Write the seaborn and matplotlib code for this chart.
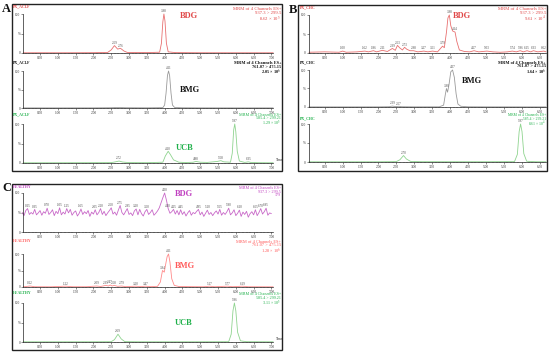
import numpy as np
import pandas as pd
import matplotlib
matplotlib.use("Agg")
import matplotlib.pyplot as plt
import seaborn as sns
from matplotlib.patches import Rectangle
from matplotlib.ticker import MultipleLocator

# ---------------- data (retention time in min, relative intensity in %) ----------------
# Panel A (PX_ACLF)
a1_t = [0.03, 0.5, 1.0, 1.5, 2.0, 2.40, 2.50, 2.59, 2.68, 2.76, 2.86, 2.95, 3.5, 3.86, 3.91, 3.95, 3.98, 4.01, 4.05, 4.10, 4.3, 5.0, 6.0, 7.05]
a1_y = [0.5, 0.6, 0.5, 0.6, 0.8, 1.5, 8, 19, 10, 12, 5, 1.5, 1, 2, 25, 80, 100, 82, 25, 3, 1, 0.6, 0.5, 0.5]
a1_lab = [2.59, 2.76, 3.98]

a2_t = [0.03, 1.0, 2.0, 2.5, 2.7, 2.9, 3.5, 3.95, 4.00, 4.04, 4.08, 4.11, 4.14, 4.18, 4.22, 4.28, 4.5, 5.0, 6.0, 7.05]
a2_y = [0.3, 0.3, 0.4, 0.8, 1.5, 0.8, 0.5, 1, 8, 40, 88, 100, 88, 40, 8, 1.5, 0.6, 0.4, 0.3, 0.3]
a2_lab = [4.11]

a3_t = [0.03, 1.0, 2.0, 2.5, 2.62, 2.72, 2.82, 3.0, 3.5, 3.95, 4.02, 4.10, 4.16, 4.25, 4.40, 4.6, 4.80, 4.88, 5.0, 5.2,
        5.48, 5.58, 5.66, 5.85, 5.90, 5.94, 5.97, 6.00, 6.04, 6.10, 6.25, 6.35, 6.42, 6.6, 7.05]
a3_y = [0.5, 0.6, 0.8, 1, 3, 5, 2.5, 1, 0.8, 2, 18, 30, 22, 8, 2, 1.2, 2, 4, 2, 1.5,
        4, 6, 3, 2, 25, 85, 100, 80, 30, 5, 1.5, 3, 1.5, 0.8, 0.5]
a3_lab = [2.72, 4.10, 4.88, 5.58, 5.97, 6.35]

# Panel B (PX_CHC)
b1_t = [0.06, 0.5, 0.9, 1.00, 1.1, 1.4, 1.62, 1.72, 1.86, 1.95, 2.11, 2.25, 2.39, 2.47, 2.53, 2.60, 2.67, 2.73, 2.79, 2.88,
        2.98, 3.1, 3.27, 3.38, 3.51, 3.65, 3.79, 3.84, 3.90, 3.94, 3.98, 4.02, 4.07, 4.14, 4.19, 4.26, 4.4, 4.55, 4.67, 4.8,
        5.03, 5.2, 5.4, 5.6, 5.74, 5.85, 5.96, 6.05, 6.15, 6.25, 6.33, 6.45, 6.62, 6.68]
b1_y = [2, 3, 2, 5, 2, 3, 5, 3, 6, 3, 7, 4, 12, 7, 20, 13, 8, 15, 10, 6,
        6, 3, 5, 3, 5, 3, 18, 14, 55, 92, 100, 72, 58, 55, 30, 8, 4, 3, 6, 3,
        5, 3, 2, 3, 5, 3, 6, 3, 6, 3, 6, 3, 5, 3]
b1_lab = [1.00, 1.62, 1.86, 2.11, 2.39, 2.53, 2.73, 2.98, 3.27, 3.51, 3.79, 3.98, 4.14, 4.67, 5.03, 5.74, 5.96, 6.15, 6.33, 6.62]

b2_t = [0.06, 1.0, 2.0, 2.30, 2.39, 2.48, 2.57, 2.65, 3.0, 3.7, 3.82, 3.87, 3.90, 3.93, 3.97, 4.02, 4.07, 4.12, 4.17, 4.22, 4.30, 4.5, 5.0, 6.68]
b2_y = [0.3, 0.3, 0.4, 0.8, 2.5, 1, 2, 0.8, 0.4, 0.5, 5, 35, 50, 40, 60, 95, 100, 80, 35, 8, 2, 0.6, 0.4, 0.3]
b2_lab = [2.39, 2.57, 3.90, 4.07]

b3_t = [0.06, 1.0, 2.0, 2.5, 2.60, 2.70, 2.78, 2.90, 3.2, 4.0, 5.0, 5.80, 5.88, 5.93, 5.97, 6.01, 6.06, 6.14, 6.4, 6.68]
b3_y = [0.5, 0.5, 0.6, 1, 6, 17, 8, 1.5, 0.8, 0.7, 0.7, 1, 20, 80, 100, 80, 22, 2, 0.7, 0.6]
b3_lab = [2.70, 5.97]

# Panel C (HEALTHY)
c1_t = [round(0.05 * i, 2) for i in range(141)]
c1_y = [50, 42, 55, 60, 45, 50, 46, 58, 44, 49,
        55, 43, 52, 48, 61, 45, 50, 57, 42, 53,
        47, 62, 44, 51, 46, 60, 49, 58, 43, 50,
        54, 41, 48, 59, 45, 52, 47, 55, 40, 51,
        46, 57, 44, 50, 60, 45, 53, 42, 49, 55,
        62, 46, 51, 43, 56, 68, 50, 44, 52, 60,
        45, 49, 42, 54, 59, 44, 58, 47, 41, 52,
        58, 45, 50, 57, 43, 48, 54, 62, 75, 88,
        100, 82, 60, 48, 52, 58, 46, 55, 44, 57,
        45, 52, 41, 49, 55, 43, 50, 47, 53, 58,
        44, 51, 40, 48, 56, 45, 50, 42, 49, 54,
        46, 58, 43, 50, 45, 52, 61, 44, 49, 57,
        42, 48, 56, 40, 51, 45, 53, 38, 47, 52,
        44, 57, 42, 50, 60, 46, 52, 61, 43, 49,
        47]
c1_lab = [0.15, 0.35, 0.70, 1.05, 1.25, 1.65, 2.05, 2.20, 2.50, 2.75, 2.95, 3.20, 3.50,
          4.00, 4.10, 4.25, 4.45, 4.95, 5.20, 5.55, 5.80, 6.10, 6.55, 6.70, 6.85]

c2_t = [0.03, 0.22, 0.35, 0.8, 1.22, 1.4, 1.8, 2.09, 2.2, 2.35, 2.42, 2.47, 2.53, 2.58, 2.68, 2.79, 2.9, 3.2, 3.3, 3.47,
        3.6, 3.8, 3.88, 3.94, 3.99, 4.04, 4.07, 4.11, 4.15, 4.20, 4.27, 4.4, 4.8, 5.1, 5.27, 5.4, 5.77, 5.9, 6.19, 6.35, 7.05]
c2_y = [0.5, 3, 0.8, 0.6, 2.5, 0.8, 0.8, 3, 1.5, 5, 3, 6, 3, 5, 2, 3, 1, 2.5, 1, 2.5,
        1, 2, 15, 50, 45, 75, 92, 100, 75, 25, 5, 1.5, 1, 0.8, 2.5, 0.8, 2.5, 0.8, 2.5, 0.8, 0.5]
c2_lab = [0.22, 1.22, 2.09, 2.35, 2.47, 2.58, 2.79, 3.20, 3.47, 3.94, 4.11, 5.27, 5.77, 6.19]

c3_t = [0.03, 1.0, 2.0, 2.5, 2.59, 2.69, 2.78, 2.88, 3.2, 4.0, 5.0, 5.80, 5.87, 5.92, 5.96, 6.00, 6.05, 6.13, 6.3, 7.05]
c3_y = [0.5, 0.5, 0.6, 0.8, 6, 20, 8, 1, 0.6, 0.5, 0.6, 0.8, 20, 80, 100, 80, 25, 3, 0.8, 0.5]
c3_lab = [2.69, 5.96]

mrm_title = "MRM of 4 Channels ES+"
a_info = [("937.3 > 299.5", "8.62 × 10$^{5}$"), ("761.07 > 475.15", "2.05 × 10$^{6}$"), ("585.4 > 299.21", "1.29 × 10$^{5}$")]
b_info = [("937.3 > 299.5", "9.61 × 10$^{4}$"), ("761.07 > 475.15", "1.64 × 10$^{6}$"), ("585.4 > 299.21", "8.61 × 10$^{4}$")]
c_info = [("937.3 > 299.5", "179"), ("761.07 > 475.15", "1.28 × 10$^{6}$"), ("585.4 > 299.21", "3.11 × 10$^{5}$")]

# ---------------- style ----------------
sns.set_style("white")
plt.rcParams["font.family"] = ["Liberation Serif", "DejaVu Serif"]
plt.rcParams["mathtext.fontset"] = "stix"

W, H = 550, 354
fig = plt.figure(figsize=(5.5, 3.54), dpi=100)

RED_L, RED_T = "#e87070", "#e04848"
GRY_L, GRY_T = "#9a9a9a", "#111111"
GRN_L, GRN_T = "#8fd48f", "#1fb04a"
MAG_L, MAG_T = "#c868c8", "#c040c0"
SAL_L, SAL_T = "#ff8a8a", "#ff5a5a"


def ftext(x, y, s, **kw):
    fig.text(x / W, 1 - y / H, s, **kw)


def trace(x0, x1, ytop, ybase, xlim, ticks, t, y, labs, color, last=False):
    ax = fig.add_axes([x0 / W, 1 - ybase / H, (x1 - x0) / W, (ybase - ytop) / H])
    df = pd.DataFrame({"t": t, "y": y})
    sns.lineplot(data=df, x="t", y="y", ax=ax, color=color, linewidth=0.6,
                 estimator=None, sort=False)
    for ln in ax.lines:
        ln.set_clip_on(False)
    ax.set_xlim(*xlim)
    ax.set_ylim(0, 100)
    ax.set_xlabel("")
    ax.set_ylabel("")
    ax.patch.set_alpha(0)
    for s in ["top", "right"]:
        ax.spines[s].set_visible(False)
    for s in ["left", "bottom"]:
        ax.spines[s].set_color("#222222")
        ax.spines[s].set_linewidth(0.5)
    ax.set_xticks(ticks)
    ax.set_xticklabels([f"{v:.2f}" for v in ticks])
    ax.xaxis.set_minor_locator(MultipleLocator(0.1))
    ax.set_yticks([0, 50, 100])
    ax.set_yticklabels(["0", "%", "100"])
    ax.tick_params(axis="both", which="major", labelsize=2.5, length=1.5, width=0.4,
                   pad=0.6, colors="#333333", direction="out", left=True, bottom=True)
    ax.tick_params(axis="x", which="minor", length=0.8, width=0.3, color="#333333", bottom=True)
    for lt in labs:
        v = np.interp(lt, t, y)
        ax.text(lt, v + 2, f"{lt:.2f}", ha="center", va="bottom", fontsize=2.3,
                color="#444444", clip_on=False)
    if last:
        ax.text(1.012, 0.03, "Time", transform=ax.transAxes, fontsize=2.5,
                color="#333333", ha="left", va="bottom")
    return ax


ticksA = list(np.arange(0.5, 7.01, 0.5))
ticksB = list(np.arange(0.5, 6.51, 0.5))
xA = (23.3, 273.2, (0.03, 7.05))
xB = (309.0, 546.0, (0.06, 6.68))

# Panel A
trace(xA[0], xA[1], 14, 53, xA[2], ticksA, a1_t, a1_y, a1_lab, RED_L)
trace(xA[0], xA[1], 71, 108, xA[2], ticksA, a2_t, a2_y, a2_lab, GRY_L)
trace(xA[0], xA[1], 124, 163, xA[2], ticksA, a3_t, a3_y, a3_lab, GRN_L, last=True)
# Panel B
trace(xB[0], xB[1], 15, 53, xB[2], ticksB, b1_t, b1_y, b1_lab, RED_L)
trace(xB[0], xB[1], 70, 107, xB[2], ticksB, b2_t, b2_y, b2_lab, GRY_L)
trace(xB[0], xB[1], 124, 162, xB[2], ticksB, b3_t, b3_y, b3_lab, GRN_L)
# Panel C
trace(xA[0], xA[1], 193, 232, xA[2], ticksA, c1_t, c1_y, c1_lab, MAG_L)
trace(xA[0], xA[1], 254, 287, xA[2], ticksA, c2_t, c2_y, c2_lab, SAL_L)
trace(xA[0], xA[1], 303, 342, xA[2], ticksA, c3_t, c3_y, c3_lab, GRN_L, last=True)

# panel frames
for (x0, y0, x1, y1) in [(12, 4, 282, 171), (298, 5, 547, 171), (12, 184, 282, 350)]:
    fig.patches.append(Rectangle((x0 / W, 1 - y1 / H), (x1 - x0) / W, (y1 - y0) / H,
                                 transform=fig.transFigure, fill=False,
                                 edgecolor="#222222", linewidth=1.0))

# panel letters
for (x, y, s) in [(2, 9, "A"), (289, 10, "B"), (2, 188, "C")]:
    ftext(x, y, s, fontsize=9, fontweight="bold", va="center", ha="left", color="#111111")

# sample names
for (x, y, s, c) in [(13, 6, "PX_ACLF", RED_T), (13, 62, "PX_ACLF", GRY_T), (13, 114, "PX_ACLF", GRN_T),
                     (300, 7, "PX_CHC", RED_T), (300, 62, "PX_CHC", GRY_T), (300, 118, "PX_CHC", GRN_T),
                     (13, 187, "HEALTHY", MAG_T), (13, 241, "HEALTHY", SAL_T), (13, 293, "HEALTHY", GRN_T)]:
    ftext(x, y, s, fontsize=2.8, fontweight="bold", va="center", ha="left", color=c)


# MRM blocks: one multi-line text each
def mrm(xr, ytop, info, color, size, spacing, bold=False):
    s = "\n".join([mrm_title, info[0], info[1]])
    ftext(xr, ytop, s, fontsize=size, va="top", ha="right", multialignment="right",
          linespacing=spacing, color=color, fontweight="bold" if bold else "normal")

mrm(281, 7.0, a_info[0], RED_T, 3.4, 0.95)
mrm(281, 61.3, a_info[1], GRY_T, 3.2, 0.9, bold=True)
mrm(281, 112.8, a_info[2], GRN_T, 3.0, 0.85)
mrm(546, 7.0, b_info[0], RED_T, 3.4, 0.95)
mrm(546, 60.7, b_info[1], GRY_T, 3.2, 0.9, bold=True)
mrm(546, 113.0, b_info[2], GRN_T, 2.7, 0.85)
mrm(281, 186.3, c_info[0], MAG_T, 3.0, 0.85)
mrm(281, 239.7, c_info[1], SAL_T, 3.2, 0.9)
mrm(281, 292.3, c_info[2], GRN_T, 3.0, 0.85)

# compound names
for (x, y, s, c) in [(189, 15.7, "BDG", RED_T), (189.5, 90, "BMG", GRY_T), (184.7, 147.7, "UCB", GRN_T),
                     (461.7, 15.7, "BDG", RED_T), (471.7, 81, "BMG", GRY_T),
                     (184, 194.3, "BDG", MAG_T), (185, 266, "BMG", SAL_T), (184, 323.3, "UCB", GRN_T)]:
    ftext(x, y, s, fontsize=6, fontweight="bold", va="center", ha="center", color=c)

fig.savefig("out.png", dpi=100)
